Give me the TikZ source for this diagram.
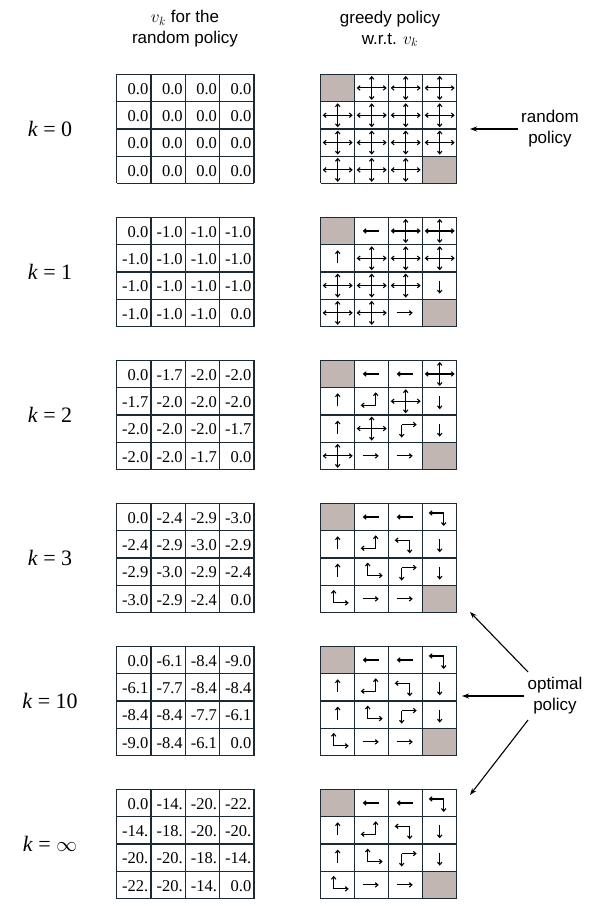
\documentclass[tikz,border=0pt]{standalone}
\usepackage{fontspec}
\setmainfont{Liberation Serif}
\newfontfamily\hsans{Liberation Sans}
\usetikzlibrary{arrows.meta}
\definecolor{gl}{HTML}{1C2A33}
\definecolor{term}{HTML}{C1B6B1}
\tikzset{
 gline/.style={draw=gl,line width=1.3pt},
 pa/.style={line width=1.1pt,-{Straight Barb[length=2.6pt,width=4.5pt]}},
 pab/.style={line width=1.1pt,{Straight Barb[length=2.6pt,width=4.5pt]}-{Straight Barb[length=2.6pt,width=4.5pt]}},
 val/.style={font=\fontsize{16.5}{18}\selectfont,anchor=base east,inner sep=0pt},
 klab/.style={font=\fontsize{22}{24}\selectfont},
 hd/.style={font=\hsans\fontsize{17}{21}\selectfont,align=center},
 ann/.style={line width=1.1pt,-{Stealth[length=7pt,width=5pt]}}
}
\newcommand\pA[2]{\draw[pab] ({#1-15},#2)--({#1+15},#2); \draw[pab] (#1,{#2-12})--(#1,{#2+12});}
\newcommand\pL[2]{\draw[pa] ({#1+7},#2)--({#1-9},#2);}
\newcommand\pR[2]{\draw[pa] ({#1-9},#2)--({#1+7},#2);}
\newcommand\pU[2]{\draw[pa] (#1,{#2+5})--(#1,{#2-8});}
\newcommand\pD[2]{\draw[pa] (#1,{#2-5})--(#1,{#2+8});}
\newcommand\pUL[2]{\draw[pa] ({#1+4},{#2+4})--({#1+4},{#2-9}); \draw[pa] ({#1+4},{#2+4})--({#1-11},{#2+4});}
\newcommand\pLD[2]{\draw[pa] ({#1+4},{#2-4})--({#1+4},{#2+9}); \draw[pa] ({#1+4},{#2-4})--({#1-11},{#2-4});}
\newcommand\pUR[2]{\draw[pa] ({#1-4},{#2+4})--({#1-4},{#2-9}); \draw[pa] ({#1-4},{#2+4})--({#1+11},{#2+4});}
\newcommand\pDR[2]{\draw[pa] ({#1-4},{#2-4})--({#1-4},{#2+9}); \draw[pa] ({#1-4},{#2-4})--({#1+11},{#2-4});}
\newcommand\pT[2]{}
\newcommand\mygrid[4]{%
 \foreach \j in {0,...,4} {%
   \draw[gline] ({#1+#3*\j},#2) -- ({#1+#3*\j},{#2+4*#4});
   \draw[gline] (#1,{#2+#4*\j}) -- ({#1+4*#3},{#2+#4*\j});}%
}
\newcommand\vgrid[2]{%
 \pgfmathsetmacro\yo{74.3+143*#1}%
 \mygrid{116.7}{\yo}{34.33}{27.3}
 \foreach \v [count=\i from 0] in {#2} {%
   \pgfmathtruncatemacro\c{mod(\i,4)}\pgfmathtruncatemacro\r{div(\i,4)}%
   \node[val] at ({116.7+34.33*(\c+1)-2.5},{\yo+27.3*\r+20}) {\v};}%
}
\newcommand\pgrid[2]{%
 \pgfmathsetmacro\yo{74.3+143*#1}%
 \fill[term] (320.7,\yo) rectangle ++(34,27.3);
 \fill[term] ({320.7+102},{\yo+81.9}) rectangle ++(34,27.3);
 \mygrid{320.7}{\yo}{34}{27.3}
 \foreach \p [count=\i from 0] in {#2} {%
   \pgfmathtruncatemacro\c{mod(\i,4)}\pgfmathtruncatemacro\r{div(\i,4)}%
   \pgfmathsetmacro\cx{320.7+34*\c+17}\pgfmathsetmacro\cy{\yo+27.3*\r+13.65}%
   \csname p\p\endcsname{\cx}{\cy}}%
}
\begin{document}
\begin{tikzpicture}[x=1pt,y=-1pt]
\useasboundingbox (0,0) rectangle (600,912);
\node[hd] (h1) at (185,29) {$v_k$ for the\\random policy};
\node[hd] (h2) at (390,29) {greedy policy\\w.r.t. $v_k$};
\foreach \k/\lab in {0/0,1/1,2/2,3/3,4/10,5/$\infty$}
  \node[klab] (k\k) at (50,{129+143*\k}) {\textit{k} = \lab};
\vgrid{0}{0.0,0.0,0.0,0.0,0.0,0.0,0.0,0.0,0.0,0.0,0.0,0.0,0.0,0.0,0.0,0.0}
\vgrid{1}{0.0,-1.0,-1.0,-1.0,-1.0,-1.0,-1.0,-1.0,-1.0,-1.0,-1.0,-1.0,-1.0,-1.0,-1.0,0.0}
\vgrid{2}{0.0,-1.7,-2.0,-2.0,-1.7,-2.0,-2.0,-2.0,-2.0,-2.0,-2.0,-1.7,-2.0,-2.0,-1.7,0.0}
\vgrid{3}{0.0,-2.4,-2.9,-3.0,-2.4,-2.9,-3.0,-2.9,-2.9,-3.0,-2.9,-2.4,-3.0,-2.9,-2.4,0.0}
\vgrid{4}{0.0,-6.1,-8.4,-9.0,-6.1,-7.7,-8.4,-8.4,-8.4,-8.4,-7.7,-6.1,-9.0,-8.4,-6.1,0.0}
\vgrid{5}{0.0,-14.,-20.,-22.,-14.,-18.,-20.,-20.,-20.,-20.,-18.,-14.,-22.,-20.,-14.,0.0}
\pgrid{0}{T,A,A,A,A,A,A,A,A,A,A,A,A,A,A,T}
\pgrid{1}{T,L,A,A,U,A,A,A,A,A,A,D,A,A,R,T}
\pgrid{2}{T,L,L,A,U,UL,A,D,U,A,DR,D,A,R,R,T}
\pgrid{3}{T,L,L,LD,U,UL,LD,D,U,UR,DR,D,UR,R,R,T}
\pgrid{4}{T,L,L,LD,U,UL,LD,D,U,UR,DR,D,UR,R,R,T}
\pgrid{5}{T,L,L,LD,U,UL,LD,D,U,UR,DR,D,UR,R,R,T}
\node[hd] (rp) at (550,129) {random\\policy};
\coordinate (rpt) at (470,129);
\draw[ann] (rp.west) -- (rpt);
\node[hd] (op) at (555,696) {optimal\\policy};
\coordinate (o1) at (470,612);
\coordinate (o2) at (462,696);
\coordinate (o3) at (470,795);
\draw[ann] (op.north west) ++(4,-2) -- (o1);
\draw[ann] (op.west) -- (o2);
\draw[ann] (op.south west) ++(4,2) -- (o3);
\end{tikzpicture}
\end{document}
